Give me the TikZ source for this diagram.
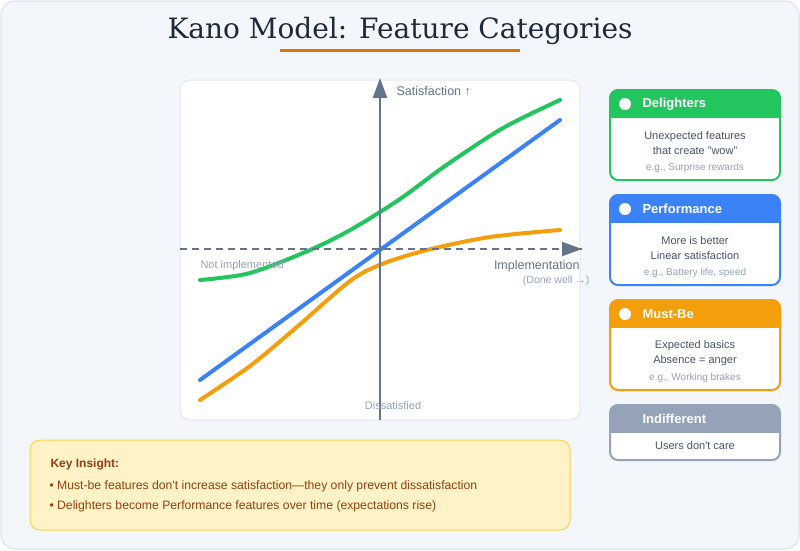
\documentclass[tikz,border=0pt]{standalone}
\usepackage{fontspec}
\setmainfont{Liberation Sans}
\newfontfamily\titlefont{DejaVu Serif}
\usetikzlibrary{arrows.meta}

\definecolor{bgpage}{HTML}{F3F6FA}
\definecolor{frame}{HTML}{E2E8F0}
\definecolor{titleink}{HTML}{1E293B}
\definecolor{accent}{HTML}{D97706}
\definecolor{axisgray}{HTML}{64748B}
\definecolor{softgray}{HTML}{94A3B8}
\definecolor{bodyink}{HTML}{475569}
\definecolor{delight}{HTML}{22C55E}
\definecolor{perform}{HTML}{3B82F6}
\definecolor{mustbe}{HTML}{F59E0B}
\definecolor{indiff}{HTML}{94A3B8}
\definecolor{notefill}{HTML}{FEF3C7}
\definecolor{noteline}{HTML}{FCD34D}
\definecolor{noteink}{HTML}{92400E}

% card: top y, bottom y, colour, name
\newcommand{\kanocard}[4]{%
    \fill[white, rounded corners=8] (610,#1) rectangle (780,#2);
    \begin{scope}
        \clip[rounded corners=8] (610,#1) rectangle (780,#2);
        \fill[#3] (610,#1) rectangle (780,#1+28);
    \end{scope}
    \draw[#3, line width=2, rounded corners=8] (610,#1) rectangle (780,#2);
    \node[cardhead] (#3head) at (639,#1+14) {#4};
}

\begin{document}
\begin{tikzpicture}[x=1pt, y=-1pt,
    cardhead/.style={anchor=west, text=white, font=\fontsize{13}{15}\selectfont\bfseries},
    cardtext/.style={text=bodyink, font=\fontsize{11}{15}\selectfont, align=center},
    cardeg/.style={text=softgray, font=\fontsize{10}{12}\selectfont},
    curve/.style={line width=4, line cap=round, line join=round},
    axis/.style={axisgray, line width=2}]
    \useasboundingbox (0,0) rectangle (800,550);
    % Page
    \fill[bgpage, draw=frame, line width=1.5, rounded corners=14] (1,1) rectangle (799,549);
    % Title
    \node[text=titleink, font=\titlefont\fontsize{28}{32}\selectfont] (title) at (400,31) {Kano Model: Feature Categories};
    \draw[accent, line width=3] (280,50) -- (520,50);

    % Chart panel
    \fill[white, draw=frame, line width=1, rounded corners=10] (180,80) rectangle (580,420);

    % Curves
    \draw[curve, delight] plot[smooth, tension=0.5] coordinates {(200,280) (250,273) (310,250) (352,229) (400,199) (445,166) (503,128) (560,100)};
    \draw[curve, perform] (200,380) -- (560,120);
    \draw[curve, mustbe] plot[smooth, tension=0.5] coordinates {(200,400) (250,366) (298,326) (350,281) (382,264) (427,250) (490,237) (560,230)};

    % Axes
    \coordinate (ytop) at (380,78);
    \coordinate (ybot) at (380,420);
    \coordinate (xleft) at (180,249);
    \coordinate (xright) at (582,249);
    \draw[axis, dash pattern=on 7 off 5] (xleft) -- (xright);
    \draw[axis, -{Triangle[length=20pt, width=14pt]}] (ybot) -- (ytop);
    \draw[axis, -{Triangle[length=20pt, width=14pt]}] (565,249) -- (xright);
    \node[anchor=west, text=axisgray, font=\fontsize{12.5}{14}\selectfont] (sat) at (393,91) {Satisfaction ↑};
    \node[anchor=west, text=softgray, font=\fontsize{11}{13}\selectfont] (notimpl) at (197,266) {Not implemented};
    \node[anchor=east, text=axisgray, font=\fontsize{12.5}{14}\selectfont] (impl) at (583,266) {Implementation};
    \node[anchor=east, text=softgray, font=\fontsize{10.5}{12}\selectfont] (donewell) at (593,281) {(Done well →)};
    \node[text=softgray, font=\fontsize{11}{13}\selectfont] (dissat) at (393,406) {Dissatisfied};

    % Category cards
    \kanocard{90}{180}{delight}{Delighters}
    \fill[white] (625,104) circle (6);
    \node[cardtext] (dtext) at (695,143.5) {Unexpected features\\that create "wow"};
    \node[cardeg] (deg) at (695,168) {e.g., Surprise rewards};

    \kanocard{195}{285}{perform}{Performance}
    \fill[white] (625,209) circle (6);
    \node[cardtext] (ptext) at (695,248.5) {More is better\\Linear satisfaction};
    \node[cardeg] (peg) at (695,273) {e.g., Battery life, speed};

    \kanocard{300}{390}{mustbe}{Must-Be}
    \fill[white] (625,314) circle (6);
    \node[cardtext] (mtext) at (695,353.5) {Expected basics\\Absence = anger};
    \node[cardeg] (meg) at (695,378) {e.g., Working brakes};

    \kanocard{405}{460}{indiff}{Indifferent}
    \node[cardtext] (itext) at (695,446) {Users don\textquotesingle t care};

    % Key insight
    \fill[notefill, draw=noteline, line width=1, rounded corners=10] (30,440) rectangle (570,530);
    \node[anchor=west, text=noteink, font=\fontsize{12}{14}\selectfont\bfseries] (keyins) at (47,464) {Key Insight:};
    \node[anchor=west, text=noteink, font=\fontsize{12.2}{14}\selectfont] (ins1) at (46,486) {• Must-be features don\textquotesingle t increase satisfaction—they only prevent dissatisfaction};
    \node[anchor=west, text=noteink, font=\fontsize{12.2}{14}\selectfont] (ins2) at (46,506) {• Delighters become Performance features over time (expectations rise)};
\end{tikzpicture}
\end{document}
